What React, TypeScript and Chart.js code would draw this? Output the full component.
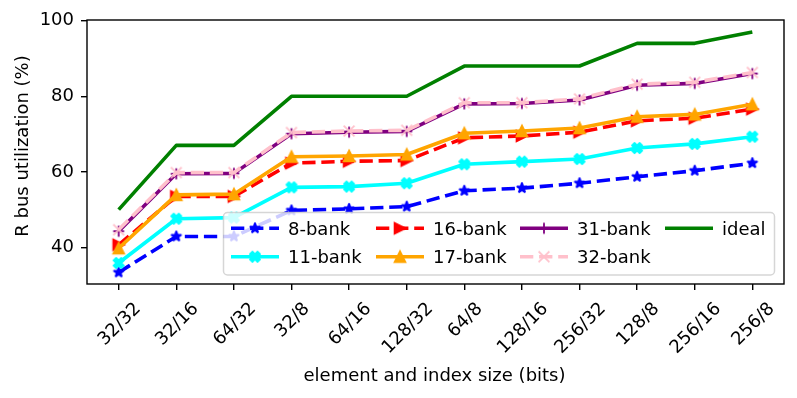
import React, { useEffect, useRef } from "react";
import { Chart, registerables } from "chart.js";

Chart.register(...registerables);

// ---------------- data ----------------
const categories = ["32/32", "32/16", "64/32", "32/8", "64/16", "128/32", "64/8", "128/16", "256/32", "128/8", "256/16", "256/8"];
const bank8 = [33.4, 42.9, 42.9, 49.8, 50.2, 50.8, 55.0, 55.7, 57.0, 58.7, 60.3, 62.3];
const bank11 = [35.9, 47.6, 47.9, 55.9, 56.1, 57.0, 62.0, 62.7, 63.4, 66.3, 67.4, 69.3];
const bank16 = [40.7, 53.5, 53.5, 62.3, 62.8, 63.0, 69.0, 69.5, 70.5, 73.5, 74.2, 76.6];
const bank17 = [39.8, 53.9, 54.1, 64.0, 64.2, 64.6, 70.2, 70.8, 71.6, 74.6, 75.2, 77.9];
const bank31 = [44.3, 59.5, 59.6, 70.1, 70.5, 70.7, 78.0, 78.1, 79.0, 82.9, 83.4, 86.0];
const bank32 = [44.7, 59.8, 59.8, 70.4, 70.8, 71.0, 78.3, 78.3, 79.3, 83.2, 83.7, 86.3];
const ideal = [50, 67, 67, 80, 80, 80, 88, 88, 88, 94, 94, 97];
const yTicks = [40, 60, 80, 100];
const seriesLabels = ["8-bank", "11-bank", "16-bank", "17-bank", "31-bank", "32-bank", "ideal"];

const xTitle = "element and index size (bits)";
const yTitle = "R bus utilization (%)";

// ---------------- styling ----------------
const FONT = "'DejaVu Sans', 'Noto Sans', sans-serif";
const FS = 18;
const LW = 3.6;
const DASH = [13.3, 5.8];
const MS = 10.8;

type Kind = "star" | "triRight" | "xFilled" | "triUp" | "plus" | "x" | "none";

function makeMarker(kind: Kind, color: string): HTMLCanvasElement {
  const S = 22;
  const c = document.createElement("canvas");
  c.width = S;
  c.height = S;
  const ctx = c.getContext("2d")!;
  ctx.translate(S / 2, S / 2);
  ctx.fillStyle = color;
  ctx.strokeStyle = color;
  ctx.lineWidth = 1.8;
  const r = MS / 2;
  ctx.beginPath();
  if (kind === "star") {
    ctx.lineJoin = "bevel";
    for (let i = 0; i < 10; i++) {
      const rad = i % 2 === 0 ? r : r * 0.381966;
      const a = -Math.PI / 2 + (i * Math.PI) / 5;
      const px = rad * Math.cos(a);
      const py = rad * Math.sin(a);
      if (i === 0) ctx.moveTo(px, py);
      else ctx.lineTo(px, py);
    }
    ctx.closePath();
    ctx.fill();
    ctx.stroke();
  } else if (kind === "triUp") {
    ctx.lineJoin = "miter";
    ctx.moveTo(0, -r);
    ctx.lineTo(-r, r);
    ctx.lineTo(r, r);
    ctx.closePath();
    ctx.fill();
    ctx.stroke();
  } else if (kind === "triRight") {
    ctx.lineJoin = "miter";
    ctx.moveTo(r, 0);
    ctx.lineTo(-r, -r);
    ctx.lineTo(-r, r);
    ctx.closePath();
    ctx.fill();
    ctx.stroke();
  } else if (kind === "xFilled") {
    ctx.lineJoin = "round";
    const pts = [
      [-1, -3], [1, -3], [1, -1], [3, -1], [3, 1], [1, 1],
      [1, 3], [-1, 3], [-1, 1], [-3, 1], [-3, -1], [-1, -1],
    ];
    const ca = Math.cos(Math.PI / 4);
    pts.forEach(([px, py], i) => {
      const ux = ((px - py) * ca * MS) / 6;
      const uy = ((px + py) * ca * MS) / 6;
      if (i === 0) ctx.moveTo(ux, uy);
      else ctx.lineTo(ux, uy);
    });
    ctx.closePath();
    ctx.fill();
    ctx.stroke();
  } else if (kind === "plus") {
    ctx.lineCap = "butt";
    ctx.moveTo(-r, 0);
    ctx.lineTo(r, 0);
    ctx.moveTo(0, -r);
    ctx.lineTo(0, r);
    ctx.stroke();
  } else if (kind === "x") {
    ctx.lineCap = "butt";
    ctx.moveTo(-r, -r);
    ctx.lineTo(r, r);
    ctx.moveTo(-r, r);
    ctx.lineTo(r, -r);
    ctx.stroke();
  }
  return c;
}

const seriesValues = [bank8, bank11, bank16, bank17, bank31, bank32, ideal];
const seriesColors = ["#0000ff", "#00ffff", "#ff0000", "#ffa500", "#800080", "#ffc0cb", "#008000"];
const seriesKinds: Kind[] = ["star", "xFilled", "triRight", "triUp", "plus", "x", "none"];
const seriesDashed = [true, false, true, false, false, true, false];

// layout constants (pixels)
const W = 797;
const H = 398;
const AREA = { left: 87, right: 784, top: 20, bottom: 284 };
const legendBox = { x: 223.5, y: 212.5, w: 551, h: 62.5, r: 4 };
const legendColX = [231, 376, 520, 665];
const legendRowY = [228.3, 256.7];
const handleLen = 48;
const handleTextGap = 57;

export default function App() {
  const ref = useRef<HTMLCanvasElement | null>(null);

  useEffect(() => {
    if (!ref.current) return;
    Chart.defaults.font.family = FONT;
    Chart.defaults.color = "#000";

    const markers = seriesKinds.map((k, i) => (k === "none" ? null : makeMarker(k, seriesColors[i])));

    const datasets = seriesValues.map((vals, i) => ({
      label: seriesLabels[i],
      data: vals.map((v, j) => ({ x: j, y: v })),
      borderColor: seriesColors[i],
      backgroundColor: seriesColors[i],
      borderWidth: LW,
      borderDash: seriesDashed[i] ? DASH : [],
      borderJoinStyle: "round" as const,
      pointStyle: markers[i] ?? false,
      pointRadius: markers[i] ? 5 : 0,
      pointHoverRadius: markers[i] ? 5 : 0,
      tension: 0,
      fill: false,
      order: 20 - i,
      clip: 20,
    }));

    const overlay = {
      id: "overlay",
      afterDraw(chart: any) {
        const ctx: CanvasRenderingContext2D = chart.ctx;
        const area = chart.chartArea;
        const xs = chart.scales.x;
        ctx.save();
        // frame
        ctx.strokeStyle = "#000";
        ctx.lineWidth = 1.4;
        ctx.setLineDash([]);
        ctx.strokeRect(area.left, area.top, area.right - area.left, area.bottom - area.top);

        // rotated x tick labels (centered like matplotlib)
        ctx.fillStyle = "#000";
        ctx.font = `${FS}px ${FONT}`;
        ctx.textAlign = "center";
        ctx.textBaseline = "alphabetic";
        const hTxt = FS * 1.17;
        categories.forEach((lab, i) => {
          const px = xs.getPixelForValue(i);
          const w = ctx.measureText(lab).width;
          const cy = area.bottom + 13.5 + (w + hTxt) * 0.35355;
          ctx.save();
          ctx.translate(px, cy);
          ctx.rotate(-Math.PI / 4);
          ctx.fillText(lab, 0, FS * 0.346);
          ctx.restore();
        });

        // axis titles
        ctx.textAlign = "center";
        ctx.textBaseline = "alphabetic";
        ctx.fillText(xTitle, (area.left + area.right) / 2 - 1, 381);
        ctx.save();
        ctx.translate(28.3, 146);
        ctx.rotate(-Math.PI / 2);
        ctx.fillText(yTitle, 0, 0);
        ctx.restore();

        // legend
        ctx.beginPath();
        ctx.roundRect(legendBox.x, legendBox.y, legendBox.w, legendBox.h, legendBox.r);
        ctx.fillStyle = "rgba(255,255,255,0.8)";
        ctx.fill();
        ctx.strokeStyle = "rgba(204,204,204,0.8)";
        ctx.lineWidth = 1.5;
        ctx.stroke();

        seriesLabels.forEach((lab, k) => {
          const col = Math.floor(k / 2);
          const row = k % 2;
          const hx = legendColX[col];
          const hy = legendRowY[row];
          ctx.beginPath();
          ctx.strokeStyle = seriesColors[k];
          ctx.lineWidth = LW;
          ctx.lineCap = "butt";
          ctx.setLineDash(seriesDashed[k] ? DASH : []);
          ctx.moveTo(hx, hy);
          ctx.lineTo(hx + handleLen, hy);
          ctx.stroke();
          ctx.setLineDash([]);
          const m = markers[k];
          if (m) ctx.drawImage(m, hx + handleLen / 2 - m.width / 2, hy - m.height / 2);
          ctx.fillStyle = "#000";
          ctx.textAlign = "left";
          ctx.fillText(lab, hx + handleTextGap, hy + 6.7);
        });
        ctx.restore();
      },
    };

    const chart = new Chart(ref.current, {
      type: "line",
      data: { datasets: datasets as any },
      options: {
        responsive: false,
        animation: false,
        devicePixelRatio: 1,
        layout: { padding: { top: AREA.top, right: W - AREA.right, left: 0, bottom: 0 } },
        plugins: { legend: { display: false }, tooltip: { enabled: false }, title: { display: false } },
        events: [],
        scales: {
          x: {
            type: "linear",
            min: -0.55,
            max: categories.length - 1 + 0.55,
            afterBuildTicks: (scale: any) => {
              scale.ticks = categories.map((_, i) => ({ value: i }));
            },
            afterFit: (scale: any) => {
              scale.height = H - AREA.bottom;
            },
            ticks: { display: false },
            grid: { display: true, drawOnChartArea: false, drawTicks: true, tickLength: 6, color: "#000", lineWidth: 1.4 },
            border: { display: false },
          },
          y: {
            type: "linear",
            min: 30.33,
            max: 100.18,
            afterBuildTicks: (scale: any) => {
              scale.ticks = yTicks.map((v) => ({ value: v }));
            },
            afterFit: (scale: any) => {
              scale.width = AREA.left;
            },
            ticks: { font: { size: FS, family: FONT }, color: "#000", padding: 7, callback: (v: any) => String(v) },
            grid: { display: true, drawOnChartArea: false, drawTicks: true, tickLength: 6, color: "#000", lineWidth: 1.4 },
            border: { display: false },
          },
        },
      },
      plugins: [overlay],
    });
    return () => chart.destroy();
  }, []);

  return (
    <div style={{ position: "fixed", left: 0, top: 0, width: W, height: H, background: "#fff" }}>
      <canvas ref={ref} width={W} height={H} style={{ display: "block", width: W, height: H }} />
    </div>
  );
}
